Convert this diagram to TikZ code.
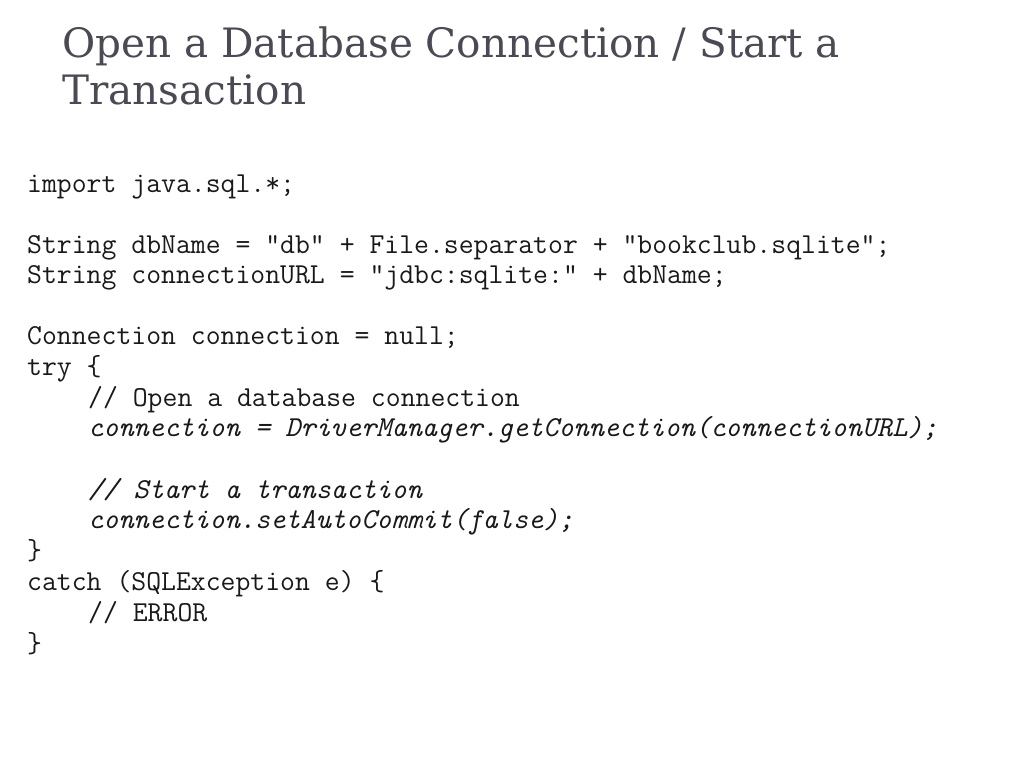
\documentclass[tikz,border=0pt]{standalone}
\usepackage{fontspec}
\setmainfont{DejaVu Serif}
\definecolor{titlec}{HTML}{4A4A55}
\begin{document}
\begin{tikzpicture}[x=1pt,y=-1pt,
  ttl/.style={anchor=base west,inner sep=0pt,text=titlec,font=\fontsize{40.5}{46}\selectfont},
  code/.style={anchor=base west,inner sep=0pt,text=black!90,font=\ttfamily\fontsize{28.9}{30}\selectfont}]
\useasboundingbox (0,0) rectangle (1024,768);
\node[ttl] (t1) at (62,57) {Open a Database Connection / Start a};
\node[ttl] (t2) at (62,104) {Transaction};
\node[code] (c1) at (27,192) {import java.sql.*;};
\node[code] (c2) at (27,253) {String dbName = "db" + File.separator + "bookclub.sqlite";};
\node[code] (c3) at (27,283) {String connectionURL = "jdbc:sqlite:" + dbName;};
\node[code] (c4) at (27,344) {Connection connection = null;};
\node[code] (c5) at (27,375) {try \{};
\node[code] (c6) at (88,406) {// Open a database connection};
\node[code] (c7) at (88,436) {\itshape connection = DriverManager.getConnection(connectionURL);};
\node[code] (c8) at (88,498) {\itshape // Start a transaction};
\node[code] (c9) at (88,528) {\itshape connection.setAutoCommit(false);};
\node[code] (c10) at (27,559) {\}};
\node[code] (c11) at (27,590) {catch (SQLException e) \{};
\node[code] (c12) at (88,621) {// ERROR};
\node[code] (c13) at (27,652) {\}};
\end{tikzpicture}
\end{document}
